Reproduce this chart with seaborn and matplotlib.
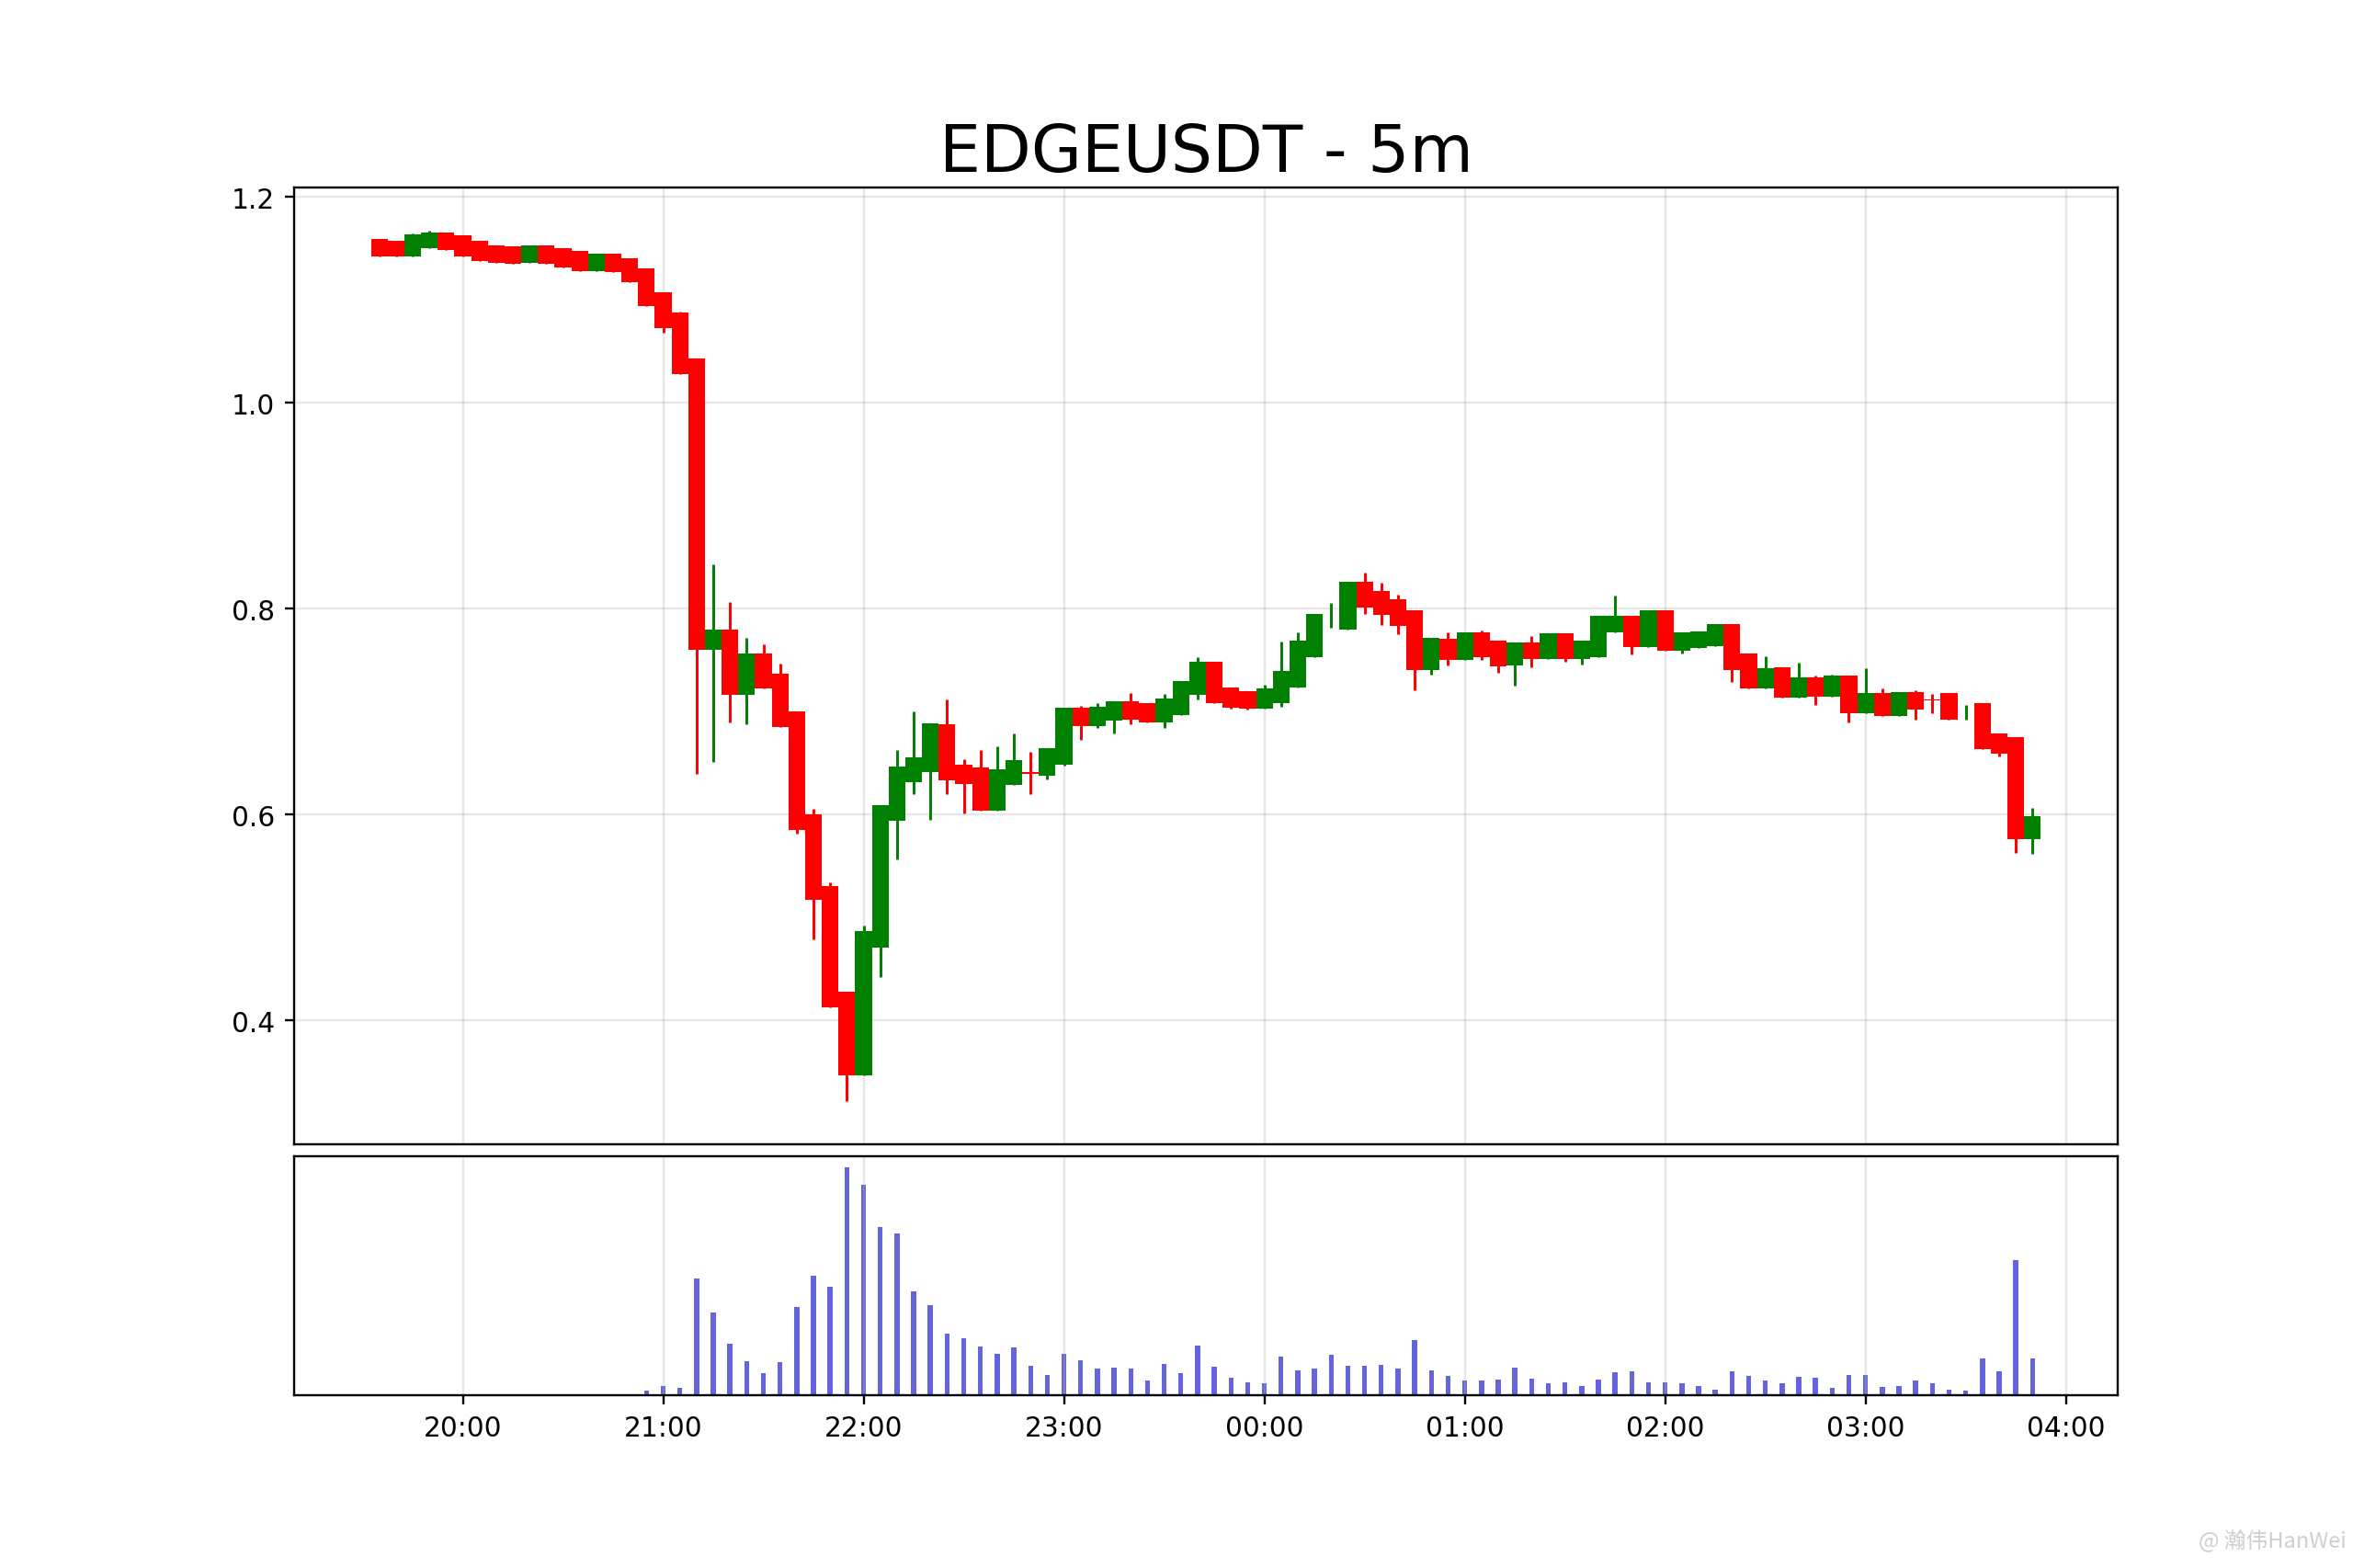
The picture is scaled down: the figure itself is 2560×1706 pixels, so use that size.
import pandas as pd
import numpy as np
import seaborn as sns
import matplotlib.pyplot as plt
import matplotlib.dates as mdates

# 5 minute candles, 19:35 -> 03:50
SYMBOL = "EDGEUSDT"
INTERVAL = "5m"
times = pd.date_range("2025-06-10 19:35", periods=100, freq="5min")

opens = [
    1.159, 1.158, 1.142, 1.150, 1.166, 1.163, 1.158, 1.153, 1.152, 1.136,
    1.153, 1.150, 1.148, 1.128, 1.145, 1.141, 1.131, 1.108, 1.088, 1.043,
    0.760, 0.780, 0.716, 0.757, 0.737, 0.700, 0.600, 0.531, 0.428, 0.347,
    0.471, 0.594, 0.632, 0.641, 0.688, 0.649, 0.646, 0.604, 0.629, 0.641,
    0.638, 0.649, 0.704, 0.686, 0.691, 0.710, 0.708, 0.690, 0.697, 0.716,
    0.749, 0.724, 0.720, 0.703, 0.708, 0.724, 0.753, 0.797, 0.780, 0.826,
    0.817, 0.809, 0.799, 0.741, 0.771, 0.750, 0.777, 0.769, 0.745, 0.767,
    0.751, 0.776, 0.751, 0.753, 0.777, 0.793, 0.763, 0.799, 0.759, 0.762,
    0.764, 0.785, 0.757, 0.723, 0.743, 0.714, 0.733, 0.715, 0.735, 0.699,
    0.718, 0.696, 0.719, 0.712, 0.718, 0.700, 0.708, 0.679, 0.675, 0.576,
]
closes = [
    1.142, 1.142, 1.164, 1.166, 1.149, 1.142, 1.138, 1.136, 1.135, 1.153,
    1.135, 1.132, 1.128, 1.145, 1.127, 1.117, 1.094, 1.073, 1.028, 0.760,
    0.780, 0.716, 0.757, 0.723, 0.685, 0.585, 0.517, 0.413, 0.347, 0.487,
    0.609, 0.647, 0.656, 0.689, 0.633, 0.630, 0.604, 0.644, 0.653, 0.640,
    0.665, 0.704, 0.686, 0.705, 0.710, 0.692, 0.690, 0.713, 0.730, 0.749,
    0.708, 0.704, 0.703, 0.723, 0.740, 0.769, 0.795, 0.797, 0.826, 0.801,
    0.794, 0.783, 0.741, 0.772, 0.750, 0.777, 0.753, 0.744, 0.767, 0.751,
    0.776, 0.751, 0.769, 0.793, 0.793, 0.763, 0.799, 0.759, 0.777, 0.778,
    0.785, 0.741, 0.723, 0.742, 0.714, 0.733, 0.715, 0.735, 0.699, 0.718,
    0.696, 0.719, 0.702, 0.711, 0.692, 0.700, 0.664, 0.659, 0.576, 0.599,
]
highs = [
    1.159, 1.158, 1.165, 1.167, 1.166, 1.163, 1.158, 1.153, 1.152, 1.153,
    1.153, 1.150, 1.148, 1.145, 1.145, 1.141, 1.131, 1.108, 1.089, 1.043,
    0.843, 0.807, 0.772, 0.766, 0.747, 0.700, 0.606, 0.534, 0.428, 0.492,
    0.609, 0.663, 0.700, 0.689, 0.712, 0.654, 0.663, 0.666, 0.679, 0.661,
    0.665, 0.704, 0.706, 0.708, 0.710, 0.718, 0.708, 0.717, 0.730, 0.753,
    0.749, 0.724, 0.720, 0.726, 0.768, 0.777, 0.795, 0.806, 0.826, 0.835,
    0.825, 0.814, 0.799, 0.772, 0.777, 0.777, 0.779, 0.769, 0.767, 0.774,
    0.776, 0.776, 0.769, 0.793, 0.813, 0.793, 0.799, 0.799, 0.777, 0.778,
    0.785, 0.785, 0.757, 0.754, 0.743, 0.748, 0.735, 0.736, 0.735, 0.742,
    0.723, 0.719, 0.721, 0.717, 0.718, 0.707, 0.708, 0.679, 0.675, 0.607,
]
lows = [
    1.142, 1.142, 1.142, 1.150, 1.149, 1.142, 1.138, 1.136, 1.135, 1.136,
    1.135, 1.132, 1.128, 1.128, 1.127, 1.117, 1.094, 1.068, 1.028, 0.640,
    0.651, 0.690, 0.688, 0.723, 0.685, 0.582, 0.479, 0.413, 0.322, 0.347,
    0.442, 0.557, 0.620, 0.595, 0.620, 0.601, 0.604, 0.604, 0.629, 0.620,
    0.634, 0.648, 0.673, 0.684, 0.679, 0.688, 0.690, 0.684, 0.697, 0.712,
    0.708, 0.703, 0.702, 0.703, 0.705, 0.724, 0.753, 0.782, 0.780, 0.795,
    0.784, 0.775, 0.721, 0.736, 0.745, 0.750, 0.750, 0.738, 0.725, 0.743,
    0.751, 0.749, 0.746, 0.753, 0.777, 0.756, 0.763, 0.759, 0.757, 0.762,
    0.764, 0.729, 0.723, 0.723, 0.714, 0.714, 0.707, 0.715, 0.690, 0.699,
    0.696, 0.696, 0.692, 0.699, 0.692, 0.692, 0.664, 0.657, 0.563, 0.562,
]
volumes = [
    0, 0, 0, 3, 0, 0, 0, 0, 0, 0,
    0, 0, 3, 2, 0, 1, 15, 30, 25, 382,
    270, 169, 112, 73, 109, 289, 391, 354, 742, 685,
    550, 529, 340, 293, 202, 185, 160, 136, 157, 97,
    66, 136, 116, 87, 91, 88, 49, 102, 74, 163,
    94, 58, 43, 40, 126, 82, 88, 133, 96, 96,
    101, 88, 181, 82, 64, 49, 49, 53, 91, 55,
    40, 44, 30, 52, 76, 79, 44, 43, 40, 31,
    20, 79, 64, 49, 40, 60, 58, 25, 66, 66,
    29, 31, 49, 40, 20, 16, 121, 79, 442, 121,
]

df = pd.DataFrame({
    "time": times, "open": opens, "high": highs,
    "low": lows, "close": closes, "volume": volumes,
})
df["x"] = mdates.date2num(df["time"])
step = df["x"].diff().min()
df["color"] = np.where(df["close"] >= df["open"], "green", "red")
df["body_low"] = df[["open", "close"]].min(axis=1)
df["body_h"] = (df["close"] - df["open"]).abs()

fig, (ax1, ax2) = plt.subplots(
    2, 1, figsize=(12, 8), sharex=True,
    gridspec_kw={"height_ratios": [4, 1], "hspace": 0.02},
)

# ======== velas ========
ax1.vlines(df["x"], df["low"], df["high"], colors=df["color"], linewidth=1, zorder=2)
ax1.bar(df["x"], df["body_h"], bottom=df["body_low"], width=step,
        color=df["color"], linewidth=0, zorder=3)
ax1.set_title(f"{SYMBOL} - {INTERVAL}", fontsize=24)
ax1.grid(True, alpha=0.3)
ax1.tick_params(axis="x", length=0)

# ======== volume ========
sns.barplot(x=df["x"], y=df["volume"], native_scale=True, width=0.3,
            color="#6464dc", saturation=1, errorbar=None, ax=ax2)
ax2.set_xlabel("")
ax2.set_ylabel("")
ax2.set_yticks([])
ax2.grid(True, axis="x", alpha=0.3)

ax2.xaxis.set_major_locator(mdates.HourLocator(interval=1))
ax2.xaxis.set_major_formatter(mdates.DateFormatter("%H:%M"))
ax2.set_xlim(df["x"].iloc[0] - 5.1 * step, df["x"].iloc[-1] + 5.1 * step)

fig.text(0.997, 0.01, "@ 瀚伟HanWei", ha="right", va="bottom", fontsize=8,
         color="#cfcfcf", family=["Noto Sans CJK SC", "DejaVu Sans"])

fig.savefig("out.png", dpi=2560 / 12)
plt.close(fig)
